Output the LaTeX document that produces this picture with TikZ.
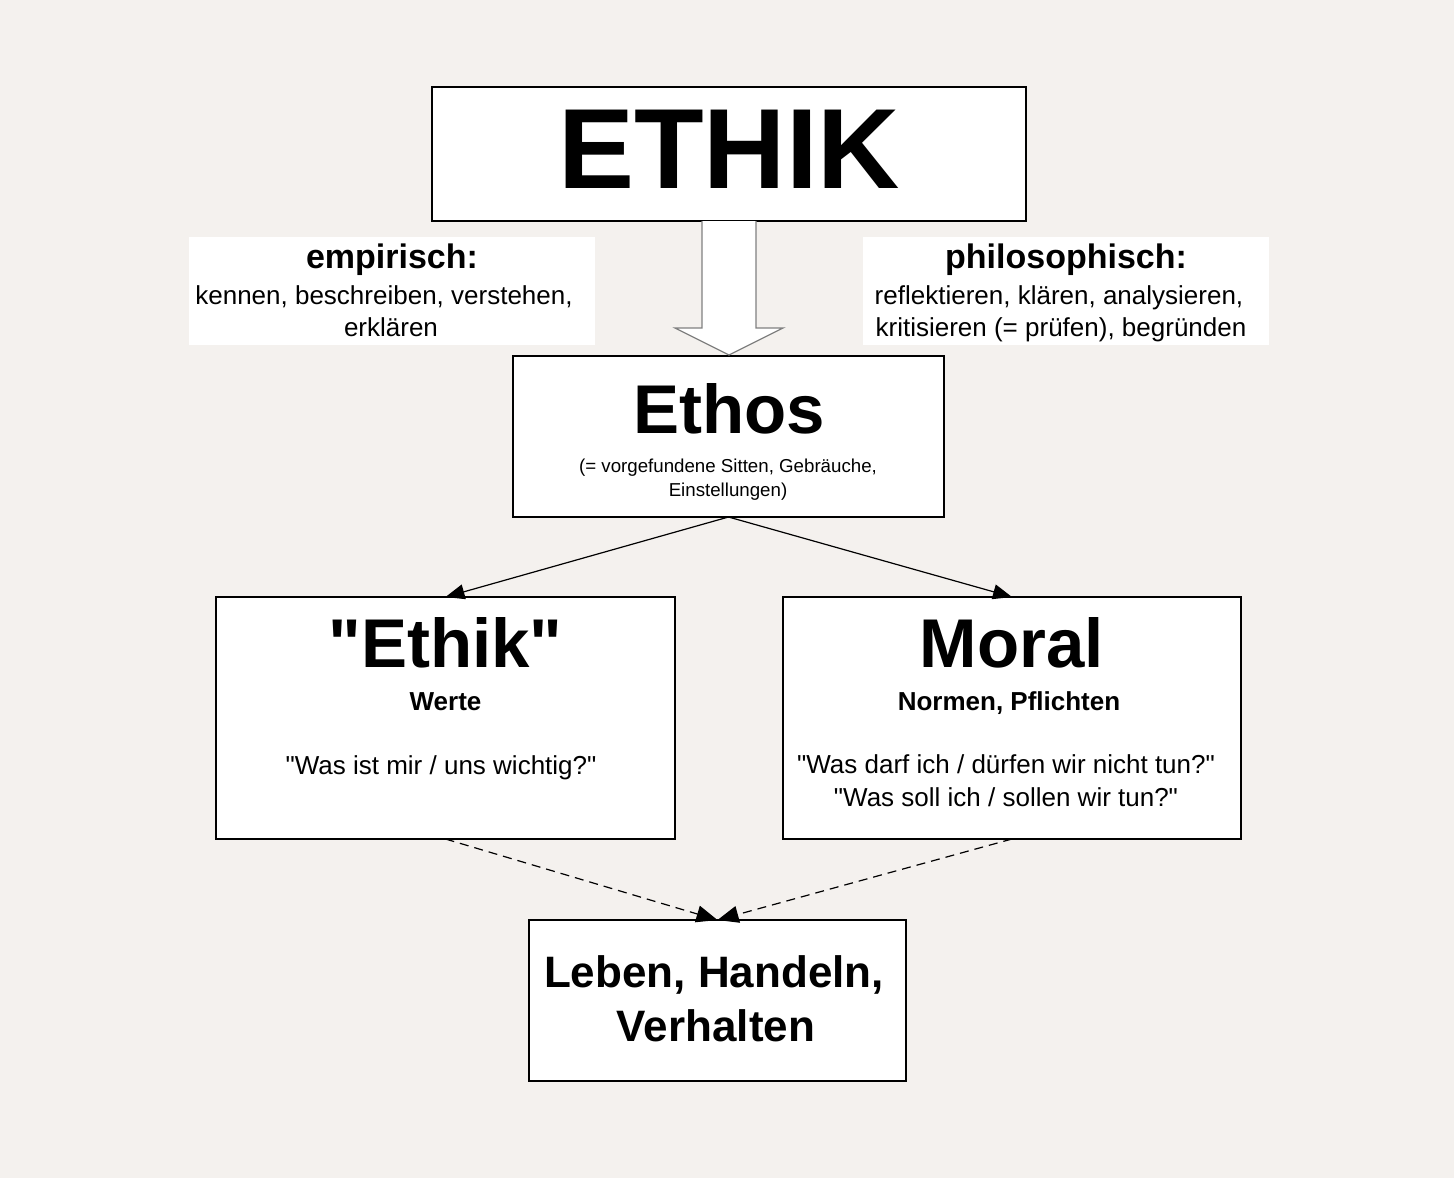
\documentclass[tikz,border=0pt]{standalone}
\usepackage{fontspec}
\setmainfont{Liberation Sans}[Ligatures=TeXOff]
\usetikzlibrary{arrows.meta,calc}
\definecolor{bg}{HTML}{F4F1EE}
\definecolor{arrowgray}{HTML}{808080}
\begin{document}
\begin{tikzpicture}[x=1pt,y=-1pt,
  box/.style={draw=black,line width=1.3pt,fill=white,rectangle,inner sep=0pt,outer sep=0pt},
  lbl/.style={fill=white,draw=none,rectangle,inner sep=0pt,outer sep=0pt},
  txt/.style={anchor=base,inner sep=0pt,outer sep=0pt},
  huge/.style={font=\fontsize{114}{114}\bfseries\selectfont},
  big/.style={font=\fontsize{69}{69}\bfseries\selectfont},
  mid/.style={font=\fontsize{44}{44}\bfseries\selectfont},
  head/.style={font=\fontsize{34}{34}\bfseries\selectfont},
  sub/.style={font=\fontsize{26}{26}\bfseries\selectfont},
  body/.style={font=\fontsize{26}{26}\selectfont},
  small/.style={font=\fontsize{18.7}{18.7}\selectfont},
  conn/.style={line width=1.2pt,-{Triangle[length=19pt,width=15pt]}},
  dconn/.style={line width=1.2pt,dash pattern=on 9pt off 6pt,-{Triangle[length=21pt,width=17pt]}}]
\fill[bg] (0,0) rectangle (1454,1178);
\useasboundingbox (0,0) rectangle (1454,1178);

% boxes
\node[box,line width=2pt,minimum width=594pt,minimum height=134pt] (ethik) at (729,154) {};
\node[lbl,minimum width=406pt,minimum height=108pt] (emp) at (392,291) {};
\node[lbl,minimum width=406pt,minimum height=108pt] (phil) at (1066,291) {};
\node[box,minimum width=431pt,minimum height=161pt] (ethos) at (728.5,436.5) {};
\node[box,minimum width=459pt,minimum height=242pt] (ethikq) at (445.5,718) {};
\node[box,minimum width=458pt,minimum height=242pt] (moral) at (1012,718) {};
\node[box,minimum width=377pt,minimum height=161pt] (leben) at (717.5,1000.5) {};

% block arrow
\fill[white] ($(ethik.south)+(-27,0)$) -- ++(0,107) -- ++(-27,0) -- ($(ethik.south)+(0,134)$)
  -- ++(54,-27) -- ++(-27,0) -- ($(ethik.south)+(27,0)$) -- cycle;
\draw[arrowgray,line width=1.3pt,line join=miter] ($(ethik.south)+(-27,0)$) -- ++(0,107) -- ++(-27,0) -- ($(ethik.south)+(0,134)$)
  -- ++(54,-27) -- ++(-27,0) -- ($(ethik.south)+(27,0)$);

% connectors
\draw[conn] (ethos.south) -- (ethikq.north);
\draw[conn] (ethos.south) -- (moral.north);
\draw[dconn] (ethikq.south) -- (leben.north);
\draw[dconn] (moral.south) -- (leben.north);

% texts
\node[txt,huge] (tETHIK) at (729,188) {ETHIK};

\node[txt,head] (tEmp) at (392,268) {empirisch:};
\node[txt,body] (tEmp1) at (384,304) {kennen, beschreiben, verstehen,};
\node[txt,body] (tEmp2) at (391,336) {erklären};

\node[txt,head] (tPhil) at (1066,268) {philosophisch:};
\node[txt,body] (tPhil1) at (1059,304) {reflektieren, klären, analysieren,};
\node[txt,body] (tPhil2) at (1061,336) {kritisieren (= prüfen), begründen};

\node[txt,big] (tEthos) at (729,433) {Ethos};
\node[txt,small] (tEthos1) at (728,472.5) {(= vorgefundene Sitten, Gebräuche,};
\node[txt,small] (tEthos2) at (728,496) {Einstellungen)};

\node[txt,big] (tEthikq) at (445.5,667) {"Ethik"};
\node[txt,sub] (tWerte) at (445.5,710) {Werte};
\node[txt,body] (tWerte1) at (441,774) {"Was ist mir / uns wichtig?"};

\node[txt,big] (tMoral) at (1012,667) {Moral};
\node[txt,sub] (tNormen) at (1009,710) {Normen, Pflichten};
\node[txt,body] (tNormen1) at (1006,773) {"Was darf ich / dürfen wir nicht tun?"};
\node[txt,body] (tNormen2) at (1006,806) {"Was soll ich / sollen wir tun?"};

\node[txt,mid] (tLeben1) at (714,987) {Leben, Handeln,};
\node[txt,mid] (tLeben2) at (716,1041) {Verhalten};
\end{tikzpicture}
\end{document}
